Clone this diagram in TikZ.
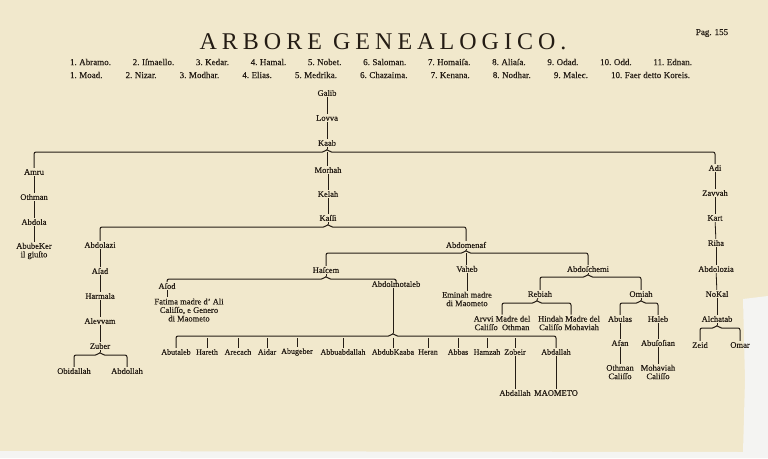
\documentclass[tikz,border=0pt]{standalone}
\usepackage{fontspec}
\setmainfont{Liberation Serif}
\usetikzlibrary{positioning}
\definecolor{paper}{RGB}{241,232,204}
\definecolor{ink}{RGB}{36,28,20}
\definecolor{edge}{RGB}{244,244,242}

\begin{document}
\begin{tikzpicture}[x=1pt,y=-1pt,
  nm/.style={font=\fontsize{8.5}{8.5}\selectfont\addfontfeature{FakeBold=0.3},inner sep=1pt,align=center,text=ink},
  kid/.style={nm,font=\fontsize{8}{8}\selectfont\addfontfeature{FakeBold=0.3}},
  hd/.style={font=\fontsize{9}{9}\selectfont\addfontfeature{FakeBold=0.3},inner sep=1pt,text=ink},
  ln/.style={draw=ink,line width=0.8pt},
  brc/.style={draw=ink,line width=1pt,rounded corners=2pt}
]
\useasboundingbox (0,0) rectangle (768,458);
\fill[paper] (0,0) rectangle (768,458);
\fill[edge] (768,296) -- (743,299) -- (745,380) -- (743,452) -- (0,451) -- (0,458) -- (768,458) -- cycle;

\node[text=ink,font=\fontsize{24}{24}\selectfont\addfontfeature{LetterSpace=21}] (title) at (383,42) {ARBORE GENEALOGICO.};
\node[hd] (pag) at (712,33) {Pag. 155};
\node[hd] (ism) at (381,62) {\makebox[622pt][s]{1.\kern2.5pt Abramo. 2.\kern2.5pt Iſmaello. 3.\kern2.5pt Kedar. 4.\kern2.5pt Hamal. 5.\kern2.5pt Nobet. 6.\kern2.5pt Saloman. 7.\kern2.5pt Homaiſa. 8.\kern2.5pt Aliaſa. 9.\kern2.5pt Odad. 10.\kern2.5pt Odd. 11.\kern2.5pt Ednan.}};
\node[hd] (kor) at (380,75) {\makebox[620pt][s]{1.\kern2.5pt Moad. 2.\kern2.5pt Nizar. 3.\kern2.5pt Modhar. 4.\kern2.5pt Elias. 5.\kern2.5pt Medrika. 6.\kern2.5pt Chazaima. 7.\kern2.5pt Kenana. 8.\kern2.5pt Nodhar. 9.\kern2.5pt Malec. 10.\kern2.5pt Faer\kern2.5pt detto\kern2.5pt Koreis.}};

\node[nm] (galib) at (327,93) {Galib};
\node[nm] (lovva) at (327,118) {Lovva};
\node[nm] (kaab) at (327,143) {Kaab};
\coordinate (jKaab) at (327,152);
\node[nm] (amru) at (34,172) {Amru};
\node[nm] (morhah) at (328,170) {Morhah};
\node[nm] (adi) at (715,168) {Adi};
\node[nm] (othman) at (34,197) {Othman};
\node[nm] (abdola) at (34,222) {Abdola};
\node[nm] (abubeker) at (34,251) {AbubeKer\\il giuſto};
\node[nm] (kelah) at (328,194) {Kelah};
\node[nm] (kassi) at (328,218) {Kaſſi};
\coordinate (jKassi) at (328,227);
\node[nm] (abdolazi) at (100,245) {Abdolazi};
\node[nm] (abdomenaf) at (466,245) {Abdomenaf};
\node[nm] (asad) at (100,271) {Aſad};
\node[nm] (harmala) at (100,296) {Harmala};
\node[nm] (alevvam) at (100,321) {Alevvam};
\node[nm] (zuber) at (100,346) {Zuber};
\coordinate (jZuber) at (100,355);
\node[nm] (obidallah) at (74,371) {Obidallah};
\node[nm] (abdollah) at (127,371) {Abdollah};
\coordinate (jMenaf) at (466,253);
\node[nm] (hascem) at (326,270) {Haſcem};
\node[nm] (vaheb) at (467,269) {Vaheb};
\node[nm] (schemi) at (588,269) {Abdoſchemi};
\node[nm] (emina) at (467,299) {Eminah madre\\di Maometo};
\coordinate (jHascem) at (326,279);
\node[nm] (asod) at (167,286) {Aſod};
\node[nm] (motaleb) at (396,284) {Abdolmotaleb};
\node[nm] (fatima) at (189,310) {Fatima madre d' Ali\\Caliſſo, e Genero\\di Maometo};
\coordinate (jMotaleb) at (393,336);
\node[kid] (abutaleb) at (176,352) {Abutaleb};
\node[kid] (hareth) at (207,352) {Hareth};
\node[kid] (arecach) at (238,352) {Arecach};
\node[kid] (aidar) at (267,352) {Aidar};
\node[kid] (abugeber) at (297,352) {Abugeber};
\node[kid] (abbuabd) at (343,352) {Abbuabdallah};
\node[kid] (kaaba) at (393,352) {AbdubKaaba};
\node[kid] (heran) at (428,352) {Heran};
\node[kid] (abbas) at (458,352) {Abbas};
\node[kid] (hamzah) at (487,352) {Hamzah};
\node[kid] (zobeir) at (515,352) {Zobeir};
\node[kid] (abdallah) at (556,352) {Abdallah};
\node[nm] (abdallahz) at (515,393) {Abdallah};
\node[nm] (maometo) at (556,393) {MAOMETO};
\coordinate (jSchemi) at (588,277);
\node[nm] (rebiah) at (540,294) {Rebiah};
\node[nm] (omiah) at (641,294) {Omiah};
\coordinate (jRebiah) at (537,303);
\node[nm] (arvvi) at (502,323) {Arvvi Madre del\\Caliſſo\ \ Othman};
\node[nm] (hindah) at (569,323) {Hindah Madre del\\Caliſſo Mohaviah};
\coordinate (jOmiah) at (641,303);
\node[nm] (abulas) at (620,319) {Abulas};
\node[nm] (haleb) at (658,319) {Haleb};
\node[nm] (afan) at (620,343) {Afan};
\node[nm] (abusosian) at (658,343) {Abuſoſian};
\node[nm] (othmanc) at (620,372) {Othman\\Caliſſo};
\node[nm] (mohaviah) at (658,372) {Mohaviah\\Caliſſo};
\node[nm] (zavvah) at (715,193) {Zavvah};
\node[nm] (kart) at (715,218) {Kart};
\node[nm] (riha) at (716,243) {Riha};
\node[nm] (abdolozia) at (716,269) {Abdolozia};
\node[nm] (nokal) at (717,294) {NoKal};
\node[nm] (alchatab) at (717,319) {Alchatab};
\coordinate (jChatab) at (717,328);
\node[nm] (zeid) at (700,345) {Zeid};
\node[nm] (omar) at (740,345) {Omar};

\draw[ln] (galib) -- (lovva);
\draw[ln] (lovva) -- (kaab);
\draw[ln] (kaab) -- ([yshift=3pt]jKaab);
\draw[brc] (amru.north) |- ([xshift=-2.5pt]jKaab) -- ([yshift=3pt]jKaab) -- ([xshift=2.5pt]jKaab) -| (adi.north);
\draw[ln] (jKaab) -- (jKaab |- morhah.north);
\draw[ln] (amru) -- (othman);
\draw[ln] (othman) -- (abdola);
\draw[ln] (abdola) -- (abubeker);
\draw[ln] (morhah) -- (kelah);
\draw[ln] (kelah) -- (kassi);
\draw[ln] (kassi) -- ([yshift=3pt]jKassi);
\draw[brc] (abdolazi.north) |- ([xshift=-2.5pt]jKassi) -- ([yshift=3pt]jKassi) -- ([xshift=2.5pt]jKassi) -| (abdomenaf.north);
\draw[ln] (abdolazi) -- (asad);
\draw[ln] (asad) -- (harmala);
\draw[ln] (harmala) -- (alevvam);
\draw[ln] (alevvam) -- (zuber);
\draw[ln] (zuber) -- ([yshift=3pt]jZuber);
\draw[brc] (obidallah.north) |- ([xshift=-2.5pt]jZuber) -- ([yshift=3pt]jZuber) -- ([xshift=2.5pt]jZuber) -| (abdollah.north);
\draw[ln] (abdomenaf) -- ([yshift=3pt]jMenaf);
\draw[brc] (hascem.north) |- ([xshift=-2.5pt]jMenaf) -- ([yshift=3pt]jMenaf) -- ([xshift=2.5pt]jMenaf) -| (schemi.north);
\draw[ln] (jMenaf) -- (jMenaf |- vaheb.north);
\draw[ln] (vaheb) -- (emina);
\draw[ln] (hascem) -- ([yshift=3pt]jHascem);
\draw[brc] (asod.north) |- ([xshift=-2.5pt]jHascem) -- ([yshift=3pt]jHascem) -- ([xshift=2.5pt]jHascem) -| (motaleb.north);
\draw[ln] (asod) -- (asod.south |- fatima.north);
\draw[ln] (jMotaleb |- motaleb.south) -- ([yshift=3pt]jMotaleb);
\draw[brc] (abutaleb.north) |- ([xshift=-2.5pt]jMotaleb) -- ([yshift=3pt]jMotaleb) -- ([xshift=2.5pt]jMotaleb) -| (abdallah.north);
\foreach \c in {hareth,arecach,aidar,abugeber,abbuabd,kaaba,heran,abbas,hamzah,zobeir}
  \draw[ln] ([yshift=-2pt]\c.north |- jMotaleb) -- (\c.north);
\draw[ln] (zobeir) -- (abdallahz);
\draw[ln] (abdallah) -- (maometo);
\draw[ln] (schemi) -- ([yshift=3pt]jSchemi);
\draw[brc] (rebiah.north) |- ([xshift=-2.5pt]jSchemi) -- ([yshift=3pt]jSchemi) -- ([xshift=2.5pt]jSchemi) -| (omiah.north);
\draw[ln] (rebiah) -- ([yshift=3pt]jRebiah);
\draw[brc] (arvvi.north) |- ([xshift=-2.5pt]jRebiah) -- ([yshift=3pt]jRebiah) -- ([xshift=2.5pt]jRebiah) -| ([xshift=2pt]hindah.north);
\draw[ln] (omiah) -- ([yshift=3pt]jOmiah);
\draw[brc] (abulas.north) |- ([xshift=-2.5pt]jOmiah) -- ([yshift=3pt]jOmiah) -- ([xshift=2.5pt]jOmiah) -| (haleb.north);
\draw[ln] (abulas) -- (afan);
\draw[ln] (afan) -- (othmanc);
\draw[ln] (haleb) -- (abusosian);
\draw[ln] (abusosian) -- (mohaviah);
\draw[ln] (adi) -- (zavvah);
\draw[ln] (zavvah) -- (kart);
\draw[ln] (kart) -- (riha);
\draw[ln] (riha) -- (abdolozia);
\draw[ln] (abdolozia) -- (nokal);
\draw[ln] (nokal) -- (alchatab);
\draw[ln] (alchatab) -- ([yshift=3pt]jChatab);
\draw[brc] (zeid.north) |- ([xshift=-2.5pt]jChatab) -- ([yshift=3pt]jChatab) -- ([xshift=2.5pt]jChatab) -| (omar.north);
\end{tikzpicture}
\end{document}
